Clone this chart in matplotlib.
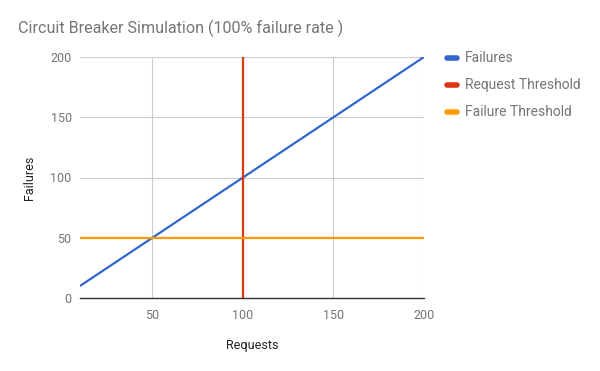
import matplotlib
matplotlib.use("Agg")
import matplotlib.pyplot as plt
from matplotlib.lines import Line2D

plt.rcParams['font.family'] = ['Roboto', 'DejaVu Sans']

requests = [10, 20, 30, 40, 50, 60, 70, 80, 90, 100, 110, 120, 130, 140, 150, 160, 170, 180, 190, 200]
failures = [10, 20, 30, 40, 50, 60, 70, 80, 90, 100, 110, 120, 130, 140, 150, 160, 170, 180, 190, 200]
request_threshold_x = [100, 100]
request_threshold_y = [0, 200]
failure_threshold_x = [10, 200]
failure_threshold_y = [50, 50]

series_names = ["Failures", "Request Threshold", "Failure Threshold"]
colors = ["#3366CC", "#DC3912", "#FF9900"]
x_ticks = [50, 100, 150, 200]
y_ticks = [0, 50, 100, 150, 200]

fig = plt.figure(figsize=(6, 3.71), dpi=100)
ax = fig.add_axes([80/600, 1-298/371, (424-80)/600, (298-57)/371])

ax.plot(requests, failures, color=colors[0], lw=1.6, zorder=3, solid_capstyle='butt')
ax.plot(request_threshold_x, request_threshold_y, color=colors[1], lw=1.6, zorder=3)
ax.plot(failure_threshold_x, failure_threshold_y, color=colors[2], lw=1.6, zorder=3)

ax.set_xlim(10, 200)
ax.set_ylim(0, 200)
ax.set_xticks(x_ticks)
ax.set_yticks(y_ticks)
ax.grid(True, color="#CCCCCC", lw=0.8, zorder=0)
for s in ["top", "right", "left"]:
    ax.spines[s].set_visible(False)
ax.spines["bottom"].set_color("#333333")
ax.spines["bottom"].set_linewidth(1.0)
ax.spines["bottom"].set_zorder(4)
ax.tick_params(axis='both', length=0, labelsize=9, labelcolor="#757575")
ax.tick_params(axis='x', pad=8)
ax.tick_params(axis='y', pad=6)

fig.text(18/600, 1-28/371, "Circuit Breaker Simulation (100% failure rate )", fontsize=11.6,
         color="#757575", ha="left", va="center")
fig.text(252/600, 1-345/371, "Requests", fontsize=9, color="#222222", ha="center", va="center")
fig.text(30/600, 1-178/371, "Failures", fontsize=9, color="#222222", ha="center", va="center",
         rotation=90)

legend_y = [58, 85, 112]
for name, c, yy in zip(series_names, colors, legend_y):
    fig.add_artist(Line2D([447/600, 457/600], [1-yy/371, 1-yy/371], color=c, lw=4,
                          solid_capstyle='round', transform=fig.transFigure))
    fig.text(465/600, 1-yy/371, name, fontsize=10, color="#757575", ha="left", va="center")

fig.savefig("out.png", dpi=100)
